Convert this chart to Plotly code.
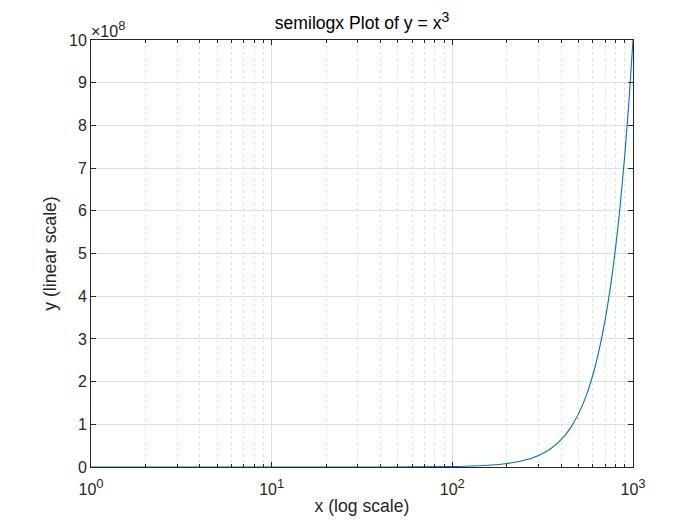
import plotly.graph_objects as go

x_vals = [1, 2, 5, 10, 20, 50, 100, 120, 150, 180, 200, 250, 300, 350, 400, 450,
          500, 550, 600, 650, 700, 750, 800, 850, 900, 950, 1000]
y_vals = [1, 8, 125, 1000, 8000, 125000, 1.0e6, 1.73e6, 3.38e6, 5.83e6, 8.0e6,
          1.56e7, 2.7e7, 4.29e7, 6.4e7, 9.11e7, 1.25e8, 1.66e8, 2.16e8, 2.75e8,
          3.43e8, 4.22e8, 5.12e8, 6.14e8, 7.29e8, 8.57e8, 1.0e9]

x_major = [1, 10, 100, 1000]
x_exps = ["0", "1", "2", "3"]
x_minor = [m * d for d in [1, 10, 100] for m in range(2, 10)]
y_ticks = [i * 1e8 for i in range(11)]
y_tick_text = [str(i) for i in range(11)]

font = "Liberation Sans, Arial, sans-serif"
axis_col = "#262626"


def sup(s, size=12):
    return "<sup><span style='font-size:%dpx'>%s</span></sup>" % (size, s)


x_major_text = ["10" + sup(e, 13) for e in x_exps]

fig = go.Figure()
fig.add_trace(go.Scatter(x=x_vals, y=y_vals, mode="lines", line_shape="spline",
                         line=dict(color="#0072BD", width=1.1), showlegend=False))

fig.update_layout(
    width=700, height=525,
    margin=dict(l=91, r=67, t=40, b=58),
    paper_bgcolor="white", plot_bgcolor="white",
    font=dict(family=font, size=16, color=axis_col),
    title=dict(text="semilogx Plot of y = x" + sup("3", 14), x=0.5, xanchor="center",
               xref="paper", y=1 - 23/525, yanchor="middle", yref="container",
               font=dict(size=17.6, color="#000000")),
)

fig.update_xaxes(
    type="log", range=[0, 3], tickvals=x_major, ticktext=x_major_text,
    ticks="inside", ticklen=5, tickcolor=axis_col, tickfont=dict(size=16, color=axis_col),
    ticklabelstandoff=8,
    showline=True, linecolor=axis_col, linewidth=1, mirror="ticks",
    showgrid=True, gridcolor="#DFDFDF", gridwidth=1, zeroline=False,
    minor=dict(tickvals=x_minor, ticks="inside", ticklen=3, tickcolor=axis_col,
               showgrid=True, gridcolor="#E3E3E3", griddash="dot", gridwidth=1),
    title=dict(text="x (log scale)", font=dict(size=17.6, color=axis_col), standoff=2),
)
fig.update_yaxes(
    range=[0, 1e9], tickvals=y_ticks, ticktext=y_tick_text,
    ticks="inside", ticklen=5, tickcolor=axis_col, tickfont=dict(size=16, color=axis_col),
    showline=True, linecolor=axis_col, linewidth=1, mirror="ticks",
    showgrid=True, gridcolor="#DFDFDF", gridwidth=1, zeroline=False,
    title=dict(text="y (linear scale)", font=dict(size=17.6, color=axis_col), standoff=7),
)
fig.add_annotation(text="\u00d710" + sup("8", 13), xref="paper", yref="paper",
                   x=0, y=1, xanchor="left", yanchor="bottom", showarrow=False,
                   font=dict(size=16, color=axis_col), xshift=-2, yshift=-2)

fig.write_html("out.html")
